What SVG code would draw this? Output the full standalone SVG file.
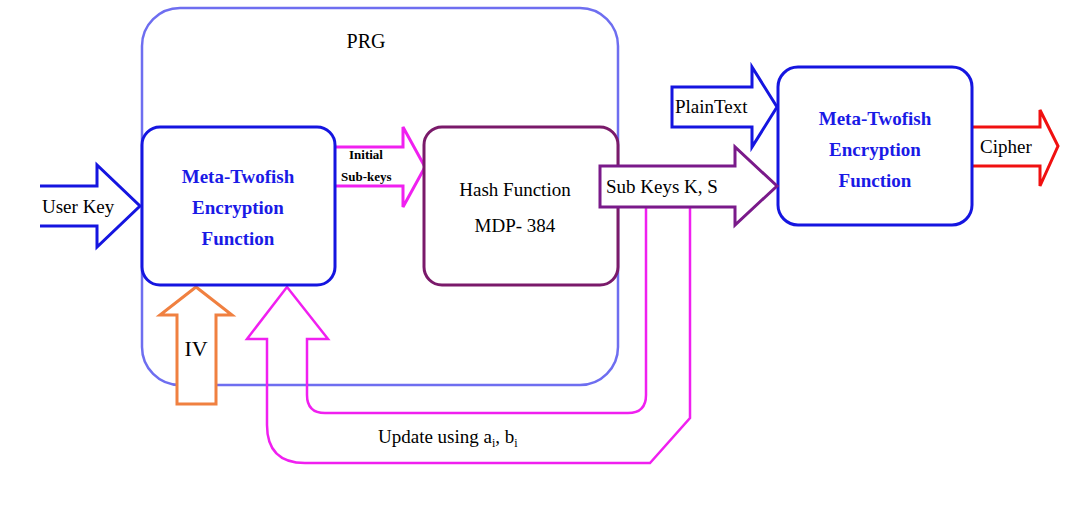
<svg xmlns="http://www.w3.org/2000/svg" width="1082" height="505" viewBox="0 0 1082 505" font-family="'Liberation Serif', 'DejaVu Serif', serif">
<style>
text{font-family:'Liberation Serif','DejaVu Serif',serif;fill:#000;}
.b{font-weight:bold;fill:#1a1ae6;font-size:19px;text-anchor:middle;}
.t{font-size:19px;}
.a{fill:#fff;stroke-width:3;stroke-linejoin:miter;}
</style>
<rect width="1082" height="505" fill="#fff"/>
<g id="prg"><rect x="142" y="8" width="476" height="377" rx="38" fill="none" stroke="#6e6ef0" stroke-width="2.5"/><text x="366" y="48" text-anchor="middle" font-size="20">PRG</text></g>
<g id="connectors">
<path id="feedback" stroke="#f020f0" d="M307,339 L328,339 L287,287 L247,339 L267,339 L267,425 Q267,463 305,463 L650,463 L690,418 L690,207 L646,207 L646,395 Q646,413 628,413 L325,413 Q307,413 307,395 Z" fill="none" stroke-width="2.5"/>
<path id="userkey" class="a" stroke="#1515e0" d="M40,186 L97,186 L97,165 L140,206 L97,247 L97,226 L40,226" fill="none"/>
<path id="initial" class="a" stroke="#f020f0" d="M335,147 L403,147 L403,127 L425,167 L403,207 L403,186 L335,186" fill="none"/>
<path id="iv" class="a" stroke="#f08040" d="M177,404 L216,404 L216,315 L232,315 L196,287 L160,315 L177,315 Z"/>
<path id="plain" class="a" stroke="#1515e0" d="M672,87 L752,87 L752,67 L777,107 L752,147 L752,127 L672,127 Z"/>
<path id="cipher" class="a" stroke="#f01010" d="M972,127 L1040,127 L1040,110 L1058,146 L1040,186 L1040,166 L972,166" fill="none"/>
<text x="42" y="213" class="t">User Key</text>
<text x="349" y="159" font-size="13" font-weight="bold">Initial</text>
<text x="341" y="181" font-size="13" font-weight="bold">Sub-keys</text>
<text x="196" y="356" font-size="22" text-anchor="middle">IV</text>
<text x="675" y="113" class="t">PlainText</text>
<text x="980" y="153" class="t">Cipher</text>
<text x="378" y="443" class="t">Update using a<tspan font-size="12" dy="4">i</tspan><tspan dy="-4">, b</tspan><tspan font-size="12" dy="4">i</tspan></text>
</g>
<g id="enc1"><rect x="142" y="127" width="193" height="158" rx="18" fill="#fff" stroke="#1515e0" stroke-width="3"/>
<text class="b" x="238" y="183">Meta-Twofish</text><text class="b" x="238" y="214">Encryption</text><text class="b" x="238" y="245">Function</text></g>
<g id="hash"><rect x="424" y="127" width="194" height="158" rx="18" fill="#fff" stroke="#7a1a6a" stroke-width="3"/>
<text class="t" x="515" y="196" text-anchor="middle">Hash Function</text><text class="t" x="515" y="232" text-anchor="middle">MDP- 384</text></g>
<g id="enc2"><rect x="778" y="67" width="194" height="158" rx="20" fill="#fff" stroke="#1515e0" stroke-width="3"/>
<text class="b" x="875" y="125">Meta-Twofish</text><text class="b" x="875" y="156">Encryption</text><text class="b" x="875" y="187">Function</text></g>
<g id="subkeys"><path class="a" stroke="#7a1a8a" d="M600,166 L735,166 L735,147 L777,186 L735,225 L735,207 L600,207 Z"/>
<text x="606" y="193" class="t">Sub Keys K, S</text></g>
</svg>
